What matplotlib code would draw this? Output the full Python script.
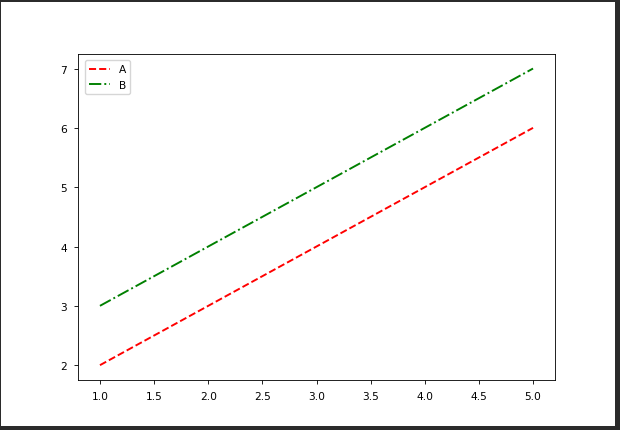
import matplotlib
matplotlib.use("Agg")
import matplotlib.pyplot as plt
from matplotlib.patches import Rectangle

x = [1, 2, 3, 4, 5]
series_a = [2, 3, 4, 5, 6]
series_b = [3, 4, 5, 6, 7]
labels = ["A", "B"]

s = 0.7675
plt.rcParams['font.size'] = 10 * s
plt.rcParams['lines.linewidth'] = 1.38
plt.rcParams['axes.linewidth'] = 0.8 * s
plt.rcParams['xtick.major.width'] = 0.8 * s
plt.rcParams['ytick.major.width'] = 0.8 * s
plt.rcParams['xtick.major.size'] = 2.6
plt.rcParams['ytick.major.size'] = 2.6
plt.rcParams['xtick.major.pad'] = 5.6
plt.rcParams['ytick.major.pad'] = 5.4

fig = plt.figure(figsize=(6.2, 4.31), dpi=100, facecolor='#2b2b2b')
fig.patches.append(Rectangle((1/620, 1 - 427/431), 614/620, 424/431,
                             transform=fig.transFigure, facecolor='white',
                             edgecolor='none', zorder=-10))
ax = fig.add_axes([78.3/620, 1 - 381/431, (554.7 - 78.3)/620, (381 - 54.7)/431])
ax.plot(x, series_a, 'r--', label=labels[0])
ax.plot(x, series_b, 'g-.', label=labels[1])
ax.legend(loc='upper left', borderaxespad=0.6)
fig.savefig('out.png', dpi=100, facecolor=fig.get_facecolor())
